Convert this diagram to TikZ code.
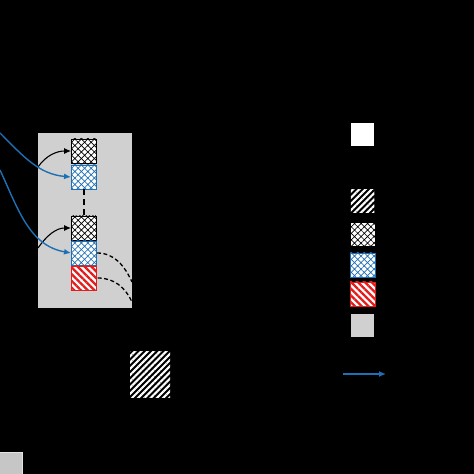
\documentclass[tikz,border=0pt]{standalone}
\usepackage{tikz}
\usetikzlibrary{arrows.meta,positioning,patterns.meta,backgrounds}
\definecolor{cellblue}{RGB}{31,111,181}
\definecolor{cellred}{RGB}{228,28,28}
\definecolor{panelgray}{RGB}{208,208,208}

\tikzset{
    cell/.style={draw, minimum width=25pt, minimum height=24pt, inner sep=0pt, line width=0.9pt},
    crossbox/.style={cell, preaction={fill=white}, pattern={Hatch[angle=45,distance=4.6pt,line width=0.7pt]}},
    bluebox/.style={crossbox, draw=cellblue, pattern color=cellblue},
    redbox/.style={cell, draw=cellred, preaction={fill=white}, pattern color=cellred, pattern={Lines[angle=-45,distance=4.8pt,line width=2.3pt]}},
    stripebox/.style={inner sep=0pt, preaction={fill=black}, pattern color=white, pattern={Lines[angle=45,distance=4.4pt,line width=2.1pt]}},
    legendbox/.style={minimum width=23.5pt, minimum height=23pt, inner sep=0pt},
    link/.style={line width=1.1pt, -{Latex[length=7pt,width=6pt]}},
    bluelink/.style={link, cellblue, line width=1.4pt}
}

\begin{document}
\begin{tikzpicture}[x=1pt, y=1pt]
    % black page
    \fill[black] (0,0) rectangle (474,474);
    \useasboundingbox (0,0) rectangle (474,474);

    % grey panel with the stacked cells
    \node[fill=panelgray, minimum width=94pt, minimum height=175pt, inner sep=0pt] (panel) at (85,253.5) {};

    \node[crossbox] (top1) at (84,323) {};
    \node[bluebox] (top2) at (84,297) {};
    \node[crossbox] (low1) at (84,246) {};
    \node[bluebox] (low2) at (84,221) {};
    \node[redbox] (low3) at (84,196) {};

    \draw[line width=2.6pt, dash pattern=on 6pt off 4pt] (top2.south) -- (low1.north);

    % incoming arrows
    \coordinate (in1) at (38,307);
    \coordinate (in2) at (38,226);
    \coordinate (bin1) at (0,341);
    \coordinate (bin2) at (0,304);
    \draw[link] (in1) to[out=55, in=180] (top1.west);
    \draw[link] (in2) to[out=55, in=180] (low1.west);
    \draw[bluelink] (bin1) to[out=-45, in=175] (top2.west);
    \draw[bluelink] (bin2) to[out=-65, in=170] (low2.west);

    % dashed outgoing curves
    \coordinate (out1) at (132,192);
    \coordinate (out2) at (132,172);
    \draw[line width=1.3pt, dash pattern=on 4pt off 2.5pt] (low2.east) to[out=0, in=115] (out1);
    \draw[line width=1.3pt, dash pattern=on 4pt off 2.5pt] (low3.east) to[out=0, in=115] (out2);

    % striped block
    \node[stripebox, minimum width=40pt, minimum height=46pt] (block) at (150,99) {};

    % legend
    \node[legendbox, fill=white] (keywhite) at (362.5,339) {};
    \node[legendbox, stripebox] (keystripe) at (362.5,273) {};
    \node[legendbox, crossbox] (keycross) at (362.5,239.5) {};
    \node[legendbox, bluebox] (keyblue) at (362.5,209) {};
    \node[legendbox, redbox] (keyred) at (362.5,180) {};
    \node[legendbox, fill=panelgray] (keygray) at (362.5,148) {};
    \coordinate (keyfrom) at (343,100);
    \coordinate (keyto) at (386,100);
    \draw[bluelink] (keyfrom) -- (keyto);

    % corner tile
    \node[fill=panelgray!95!black, draw=panelgray!60!white, line width=0.8pt, minimum width=23pt, minimum height=22pt, inner sep=0pt] (corner) at (11,11) {};
\end{tikzpicture}
\end{document}
